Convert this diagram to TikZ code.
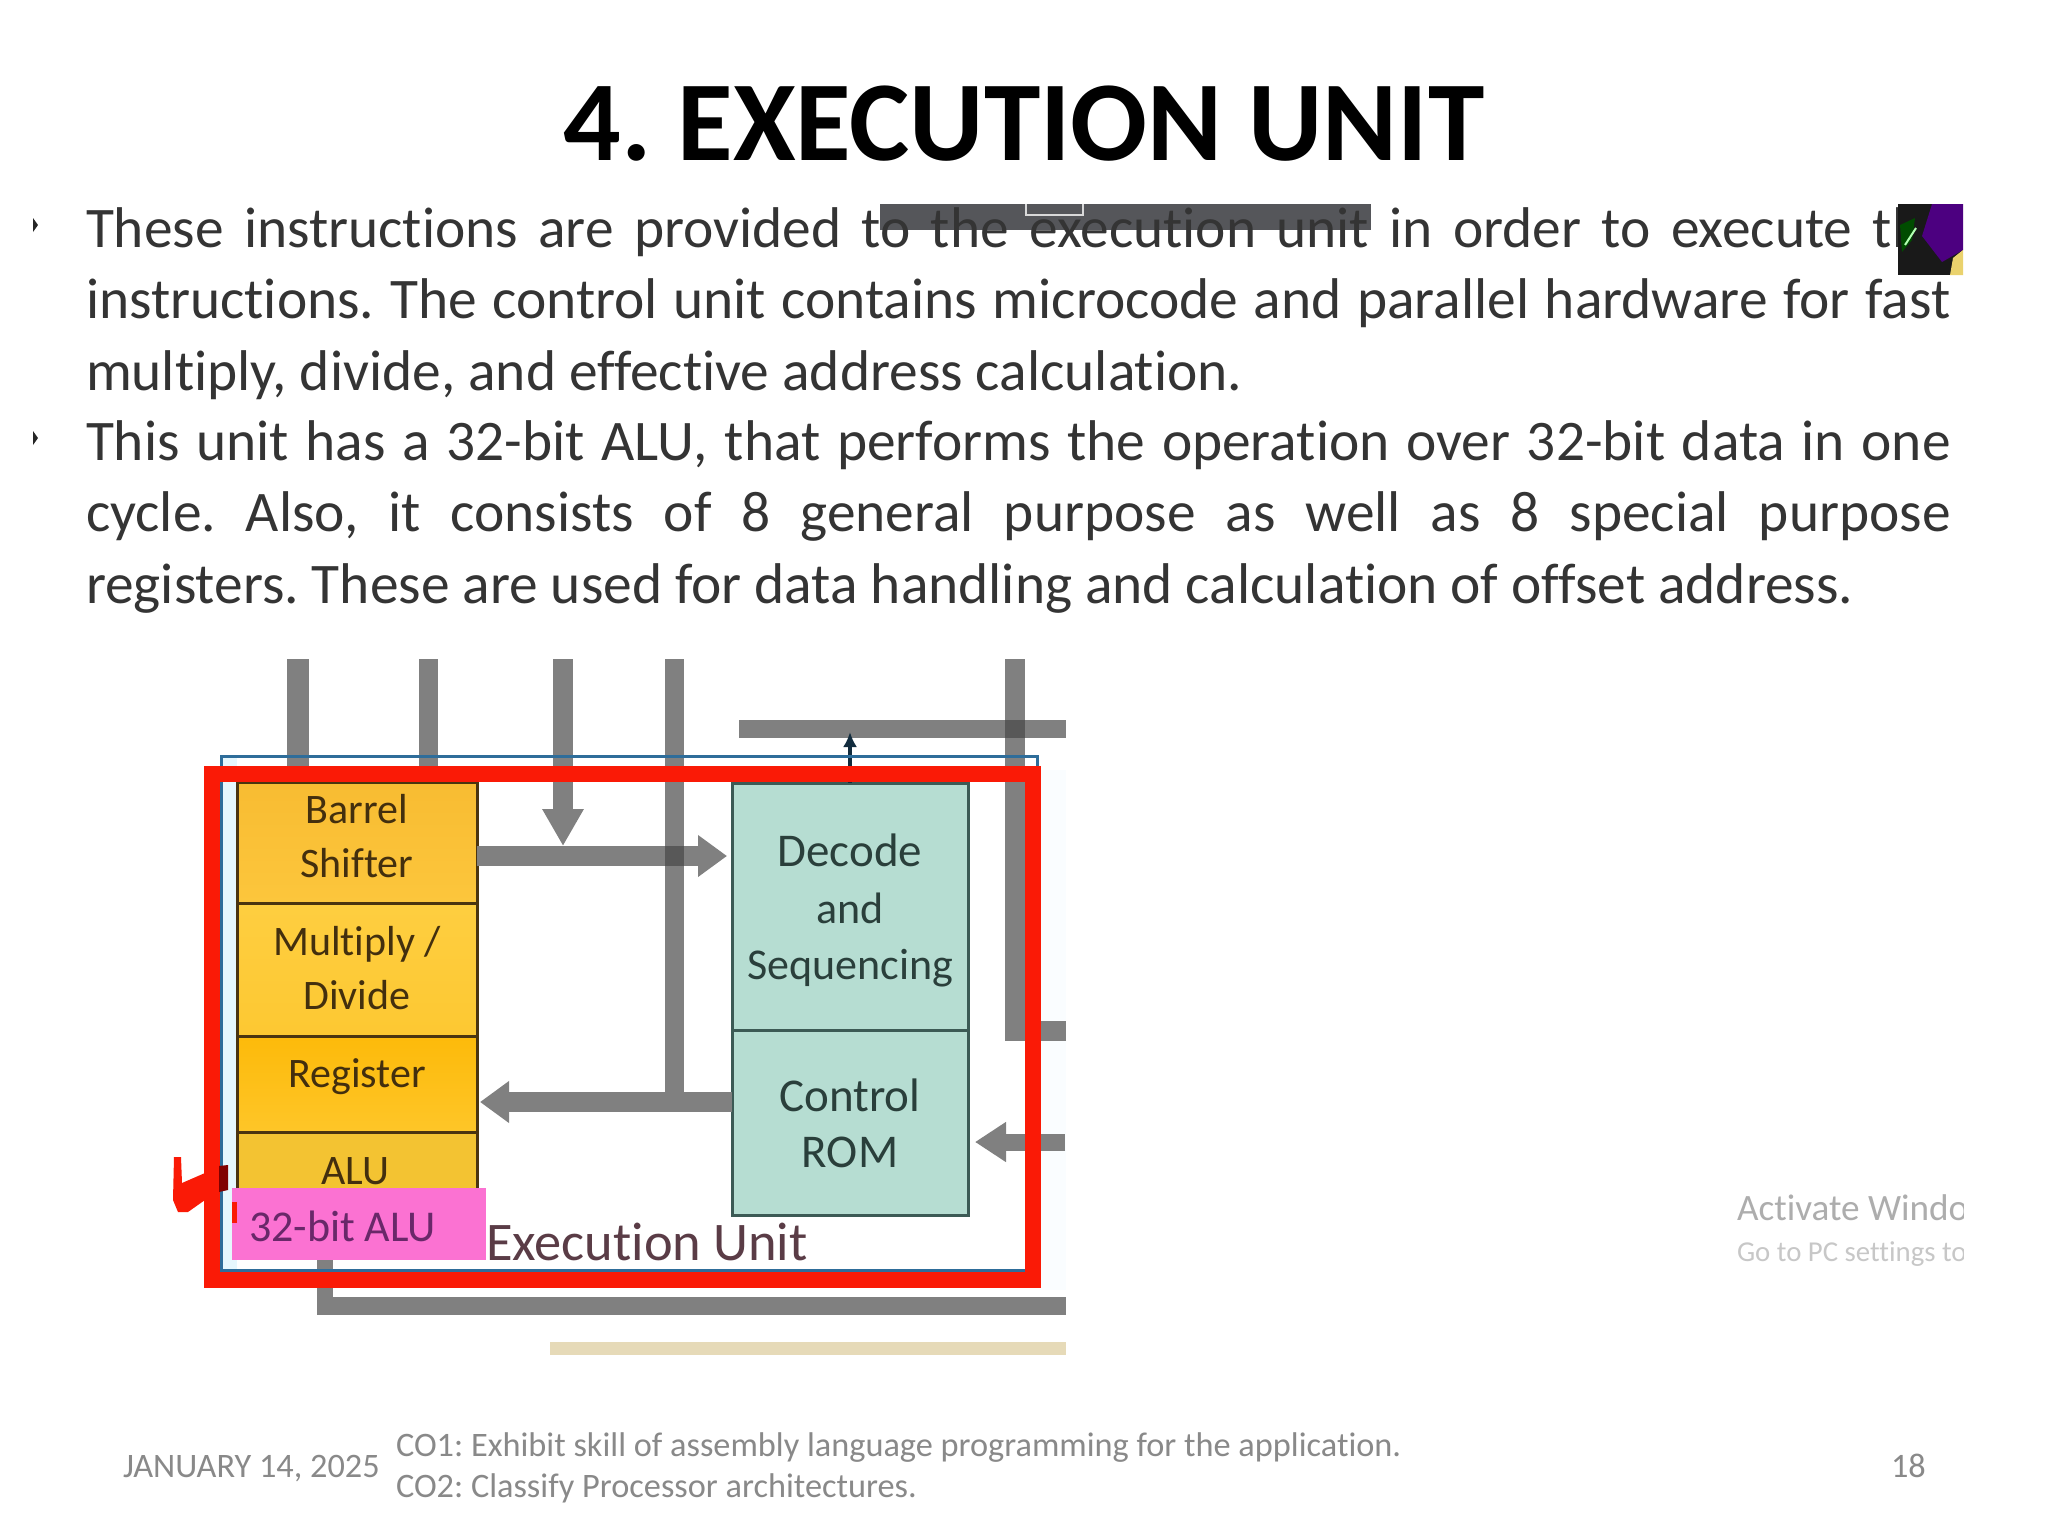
\documentclass[tikz,border=0pt]{standalone}
\usepackage{fontspec}
\setmainfont{Carlito}[Ligatures=NoCommon]
\usetikzlibrary{arrows.meta}
\newcommand{\fsz}[1]{\fontsize{#1pt}{#1pt}\selectfont}
\frenchspacing
\definecolor{busgray}{HTML}{808080}
\definecolor{busdark}{HTML}{585858}
\definecolor{framered}{HTML}{FA1A06}
\definecolor{frameblue}{HTML}{2E6D9A}
\definecolor{tealfill}{HTML}{B6DDD2}
\definecolor{tealline}{HTML}{3C5A55}
\definecolor{yellowline}{HTML}{4A3410}
\definecolor{bodytext}{HTML}{343434}
\definecolor{foot}{HTML}{898989}
\definecolor{pinkbox}{HTML}{FB72D2}
\definecolor{toolbar}{HTML}{55565A}
\tikzset{
  x=0.5pt,y=-0.5pt,
  lbl/.style={inner sep=0pt,outer sep=0pt,anchor=base},
  lblw/.style={inner sep=0pt,outer sep=0pt,anchor=base west},
  body/.style={lblw,font=\fsz{28.7},text=bodytext},
  yellowtext/.style={lbl,font=\fsz{21},text=yellowline!90!black},
  tealtext/.style={lbl,font=\fsz{23.5},text=tealline!70!black},
  tealtextn/.style={lbl,font=\fsz{22},text=tealline!70!black},
  foottext/.style={lblw,font=\fsz{17.15},text=foot},
  boxbase/.style={rectangle,inner sep=0pt,outer sep=0pt,anchor=north west},
  yellowbox/.style={boxbase,draw=yellowline,line width=1.5pt,minimum width=120pt},
  tealbox/.style={boxbase,draw=tealline,line width=1.5pt,fill=tealfill,minimum width=118pt},
  bus/.style={draw=busgray,line width=#1*.5pt},
  busarrow/.style={bus=20,-{Triangle[length=14.5pt,width=20pt]}},
  crossing/.style={fill=busdark},
}
\begin{document}
\begin{tikzpicture}
\useasboundingbox (0,0) rectangle (2048,1536);
\fill[white] (0,0) rectangle (2048,1536);

% title
\node[lbl,font=\bfseries\fsz{56.9},text=black] (title) at (1024,160) {4. EXECUTION UNIT};

% video toolbar behind first line
\fill[toolbar] (880,204) rectangle (1371,230);
\draw[white!85!black,line width=1pt] (1026,204) -- (1026,215) -- (1083,215) -- (1083,204);

% body text
\node[body] (l1) at (86,247) {\hbox to 932.5pt{These instructions are provided to the execution unit in order to execute the}};
\node[body] (l2) at (86,318.5) {\hbox to 932.5pt{instructions. The control unit contains microcode and parallel hardware for fast}};
\node[body] (l3) at (86,390) {multiply, divide, and effective address calculation.};
\node[body] (l4) at (86,460) {\hbox to 932.5pt{This unit has a 32-bit ALU, that performs the operation over 32-bit data in one}};
\node[body] (l5) at (86,531.5) {\hbox to 932.5pt{cycle. Also, it consists of 8 general purpose as well as 8 special purpose}};
\node[body] (l6) at (86,603) {registers. These are used for data handling and calculation of offset address.};

% bullets
\fill[black!85] (33,218) -- (38,225) -- (33,232) -- cycle;
\fill[black!85] (33,431) -- (38,438) -- (33,445) -- cycle;

% thumbnail
\begin{scope}
\clip (1898,204) rectangle (1963,275);
\fill[black!90] (1898,204) rectangle (1963,275);
\fill[violet!75!blue!80!black] (1932,204) -- (1963,204) -- (1963,250) -- (1942,262) -- (1922,236) -- cycle;
\fill[yellow!50!brown!70] (1953,258) -- (1963,250) -- (1963,275) -- (1950,275) -- cycle;
\fill[green!30!black] (1900,225) -- (1915,218) -- (1912,240) -- (1902,252) -- cycle;
\draw[white!70!green,line width=1pt] (1905,245) -- (1916,228);
\end{scope}

% faint tints around the frame
\fill[cyan!2] (1040,770) rectangle (1066,1290);
\fill[cyan!10] (222,758) rectangle (237,1270);

% coordinates for the buses
\coordinate (t1) at (298,659);
\coordinate (t2) at (428,659);
\coordinate (t3) at (563,659);
\coordinate (t4) at (674,659);
\coordinate (t5) at (1015,659);
\coordinate (busL) at (739,729);
\coordinate (busR) at (1066,729);
\coordinate (fwdY) at (0,856);
\coordinate (retY) at (0,1102);
\coordinate (inR) at (1065,1142);
\coordinate (stubR) at (1066,1031);
\coordinate (botL) at (325,1306);
\coordinate (botR) at (1066,1306);
\coordinate (tanL) at (550,1348.5);
\coordinate (tanR) at (1066,1348.5);
\coordinate (crossA) at (t4 |- fwdY);
\coordinate (crossB) at (t5 |- busL);

% blocks
\node[yellowbox,shade,top color={rgb,255:red,248;green,188;blue,50},bottom color={rgb,255:red,252;green,198;blue,60},minimum height=60.5pt] (barrel) at (237,782) {};
\node[yellowbox,shade,top color={rgb,255:red,254;green,206;blue,64},bottom color={rgb,255:red,253;green,200;blue,50},minimum height=66.5pt] (muldiv) at (237,903) {};
\node[yellowbox,shade,top color={rgb,255:red,253;green,186;blue,10},bottom color={rgb,255:red,254;green,198;blue,40},minimum height=48pt] (reg) at (237,1036) {};
\node[yellowbox,fill={rgb,255:red,243;green,195;blue,50},minimum height=34pt] (alu) at (237,1132) {};
\node[tealbox,minimum height=123.5pt] (decode) at (732,783) {};
\node[tealbox,minimum height=92.5pt] (rom) at (732,1030) {};

% buses
\draw[bus=22] (t1) -- (t1 |- barrel.north);
\draw[bus=19] (t2) -- (t2 |- barrel.north);
\draw[bus=19,shorten >=5pt] (t4) -- (t4 |- retY);
\draw[bus=20] (t5) -- (t5 |- stubR) -- (stubR);
\draw[bus=18] (busL) -- (busR);
\draw[busarrow,shorten >=2.5pt] (barrel.east |- fwdY) -- (decode.west |- fwdY);
\draw[bus=20,-{Triangle[length=18.5pt,width=19.5pt]},shorten >=5pt] (t3) -- (t3 |- fwdY);
\draw[busarrow,shorten >=1.5pt] (rom.west |- retY) -- (reg.east |- retY);
\draw[bus=17,-{Triangle[length=15.5pt,width=19pt]},shorten >=3.5pt] (inR) -- (rom.east |- inR);
\draw[bus=18] (botL) -- (botR);
\draw[bus=16,shorten >=-4.5pt] (alu.south -| botL) -- (botL);
\draw[draw={rgb,255:red,230;green,218;blue,184},line width=6.5pt] (tanL) -- (tanR);
\draw[-{Latex[length=7.5pt,width=7pt]},line width=2pt,draw=frameblue!40!black,shorten >=1.5pt] (decode.north) -- (decode.north |- busL);
\fill[crossing] ([shift={(-9.5,-10)}]crossA) rectangle ([shift={(9.5,10)}]crossA);
\fill[crossing] ([shift={(-10,-9)}]crossB) rectangle ([shift={(10,9)}]crossB);

% frames
\node[boxbase,draw=frameblue,line width=1.5pt,minimum width=408pt,minimum height=257pt] (blueframe) at (221,756) {};
\node[boxbase,draw=framered,line width=8pt,minimum width=410.5pt,minimum height=253pt] (redframe) at (212,774) {};

% block labels
\node[yellowtext] (tb1) at (357,823) {Barrel};
\node[yellowtext] (tb2) at (357,877) {Shifter};
\node[yellowtext] (tm1) at (357,955) {Multiply /};
\node[yellowtext] (tm2) at (357,1009) {Divide};
\node[yellowtext] (tr) at (357,1087) {Register};
\node[yellowtext] (ta) at (355,1184) {ALU};
\node[tealtext] (td1) at (850,866) {Decode};
\node[tealtextn] (td2) at (850,923) {and};
\node[tealtextn] (td3) at (850,979) {Sequencing};
\node[tealtext] (tc1) at (850,1111) {Control};
\node[tealtext] (tc2) at (850,1167) {ROM};

% annotation
\fill[framered] (174,1157) -- (181,1157) -- (182,1183) -- (205,1173) -- (205,1200) -- (188,1212) -- (178,1212) -- (173,1200) -- cycle;
\fill[red!50!black] (219,1166) -- (228,1165) -- (228,1190) -- (219,1192) -- cycle;
\node[boxbase,fill=pinkbox,minimum width=127pt,minimum height=36pt] (pink) at (232,1188) {};
\fill[framered] (232,1202) rectangle (237,1223);
\node[lblw,font=\fsz{22},text={rgb,255:red,105;green,40;blue,105}] (tp) at (249,1241) {32-bit ALU};
\node[lblw,font=\fsz{27.2},text={rgb,255:red,90;green,60;blue,70}] (te) at (486,1260) {Execution Unit};

% watermark
\begin{scope}
\clip (1700,1170) rectangle (1963,1290);
\node[lblw,font=\fsz{18.6},text=black!32] (w1) at (1737,1220) {Activate Windo};
\node[lblw,font=\fsz{14.4},text=black!22] (w2) at (1737,1261) {Go to PC settings to};
\end{scope}

% footer
\node[foottext] (fd) at (123,1477) {JANUARY 14, 2025};
\node[foottext] (f1) at (396,1456) {CO1: Exhibit skill of assembly language programming for the application.};
\node[foottext] (f2) at (396,1497) {CO2: Classify Processor architectures.};
\node[foottext] (fn) at (1891,1477) {18};
\end{tikzpicture}
\end{document}
